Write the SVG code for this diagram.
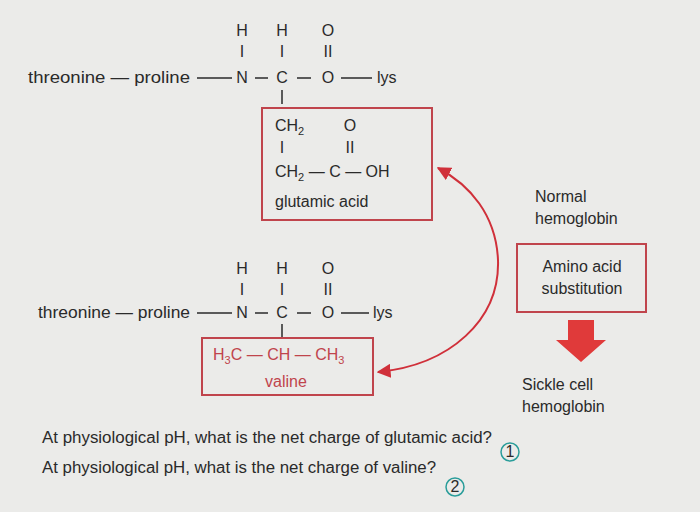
<svg xmlns="http://www.w3.org/2000/svg" width="700" height="512" viewBox="0 0 700 512">
<defs>
<style>
text{font-family:"Liberation Sans",Arial,sans-serif;font-size:16px;fill:#2a2a2a}
.m{text-anchor:middle}
.box{fill:none;stroke:#c0444c;stroke-width:2}
.bond{stroke:#2a2a2a;stroke-width:1.5}
.v{fill:#c0444c}
</style>
<marker id="ah" viewBox="0 0 10 10" refX="9" refY="5" markerWidth="7" markerHeight="7" orient="auto-start-reverse"><path d="M0,0L10,5L0,10z" fill="#d0303a"/></marker>
</defs>
<rect width="700" height="512" fill="#ebebe9"/>
<g id="normal">
<text x="242" y="36" class="m">H</text><text x="282" y="36" class="m">H</text><text x="328" y="36" class="m">O</text>
<text x="242" y="57" class="m">I</text><text x="282" y="57" class="m">I</text><text x="328" y="57" class="m">II</text>
<text x="28" y="83" textLength="162" lengthAdjust="spacingAndGlyphs">threonine — proline</text>
<text x="242" y="83" class="m">N</text><text x="282" y="83" class="m">C</text><text x="328" y="83" class="m">O</text>
<line x1="197" y1="78" x2="232" y2="78" class="bond"/><line x1="255" y1="78" x2="268" y2="78" class="bond"/><line x1="297" y1="78" x2="311" y2="78" class="bond"/><line x1="341" y1="78" x2="372" y2="78" class="bond"/>
<text x="377" y="83">lys</text>
<line x1="282" y1="90" x2="282" y2="104" class="bond"/>
</g>
<g id="glutamic">
<rect x="262" y="108" width="170" height="112" class="box"/>
<text x="275" y="131">CH<tspan font-size="11" dy="4">2</tspan></text>
<text x="350" y="131" class="m">O</text>
<text x="282" y="153" class="m">I</text><text x="350" y="153" class="m">II</text>
<text x="275" y="177">CH<tspan font-size="11" dy="4">2</tspan><tspan dy="-4"> — C — OH</tspan></text>
<text x="275" y="207">glutamic acid</text>
</g>
<g id="sickle">
<text x="242" y="274" class="m">H</text><text x="282" y="274" class="m">H</text><text x="328" y="274" class="m">O</text>
<text x="242" y="295" class="m">I</text><text x="282" y="295" class="m">I</text><text x="328" y="295" class="m">II</text>
<text x="38" y="318" textLength="152" lengthAdjust="spacingAndGlyphs">threonine — proline</text>
<text x="242" y="318" class="m">N</text><text x="282" y="318" class="m">C</text><text x="328" y="318" class="m">O</text>
<line x1="197" y1="313" x2="232" y2="313" class="bond"/><line x1="255" y1="313" x2="268" y2="313" class="bond"/><line x1="297" y1="313" x2="311" y2="313" class="bond"/><line x1="341" y1="313" x2="369" y2="313" class="bond"/>
<text x="373" y="318">lys</text>
<line x1="282" y1="324" x2="282" y2="338" class="bond"/>
</g>
<g id="valine">
<rect x="202" y="338" width="171" height="57" class="box"/>
<text x="213" y="360" class="v">H<tspan font-size="11" dy="4">3</tspan><tspan dy="-4">C — CH — CH</tspan><tspan font-size="11" dy="4">3</tspan></text>
<text x="286" y="387" class="m v">valine</text>
</g>
<g id="connectors">
<path d="M378,372 C450,365 500,320 498,260 C496,215 470,185 438,168" fill="none" stroke="#d0303a" stroke-width="2" marker-start="url(#ah)" marker-end="url(#ah)"/>
</g>
<g id="legend">
<text x="535" y="202">Normal</text><text x="535" y="224">hemoglobin</text>
<rect x="517" y="244" width="129" height="68" class="box"/>
<text x="582" y="272" class="m">Amino acid</text><text x="582" y="294" class="m">substitution</text>
<path d="M568,320h26v20h12l-25,22l-25,-22h12z" fill="#e03a3a"/>
<text x="522" y="390">Sickle cell</text><text x="522" y="412">hemoglobin</text>
</g>
<g id="questions">
<text x="42" y="443" textLength="450" lengthAdjust="spacingAndGlyphs">At physiological pH, what is the net charge of glutamic acid?</text>
<circle cx="510" cy="452" r="9" fill="none" stroke="#2a9d9a" stroke-width="1.5"/><text x="510" y="457" class="m" font-size="13">1</text>
<text x="42" y="473" textLength="394" lengthAdjust="spacingAndGlyphs">At physiological pH, what is the net charge of valine?</text>
<circle cx="455" cy="487" r="9" fill="none" stroke="#2a9d9a" stroke-width="1.5"/><text x="455" y="492" class="m" font-size="13">2</text>
</g>
</svg>
